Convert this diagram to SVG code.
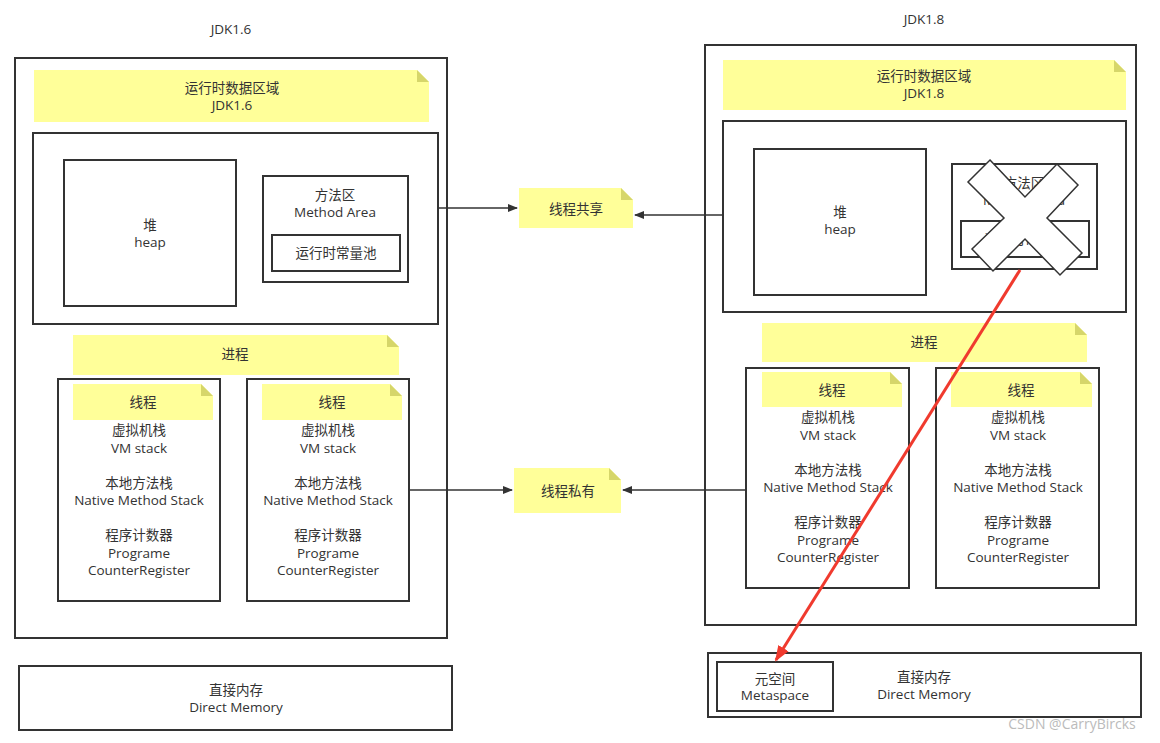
<svg xmlns="http://www.w3.org/2000/svg" width="1160" height="743" viewBox="0 0 1160 743">
<style>
text{font-family:"Open Sans","Noto Sans CJK SC",sans-serif;font-size:13.5px;fill:#333;text-anchor:middle}
.b{fill:#fff;stroke:#333;stroke-width:2}
.n{fill:#ffff99}
.f{fill:#d6d66a}
.c{stroke:#333;stroke-width:1.5;fill:none}
</style>
<defs>
<marker id="a" markerWidth="10" markerHeight="10" refX="9" refY="5" orient="auto" markerUnits="userSpaceOnUse"><path d="M0,1 L10,5 L0,9 Z" fill="#333"/></marker>
<marker id="r" markerWidth="16" markerHeight="16" refX="14" refY="8" orient="auto" markerUnits="userSpaceOnUse"><path d="M0,2 L16,8 L0,14 Z" fill="#f03a2e"/></marker>
</defs>
<rect width="1160" height="743" fill="#fff"/>
<text x="231" y="34">JDK1.6</text>
<text x="924" y="24">JDK1.8</text>
<g id="left">
<rect class="b" x="15" y="58" width="432" height="580"/>
<g id="n1"><path class="n" d="M34,70 H417 L429,82 V122 H34 Z"/><path class="f" d="M417,70 L429,82 H417 Z"/><text x="232" y="93">运行时数据区域</text><text x="232" y="110">JDK1.6</text></g>
<rect class="b" x="33" y="133" width="405" height="191"/>
<g id="heap1"><rect class="b" x="64" y="160" width="172" height="146"/><text x="150" y="230">堆</text><text x="150" y="247">heap</text></g>
<g id="ma1"><rect class="b" x="263" y="176" width="145" height="106"/><text x="335" y="200">方法区</text><text x="335" y="217">Method Area</text>
<rect class="b" x="272" y="235" width="128" height="36"/><text x="336" y="258">运行时常量池</text></g>
<g id="p1"><path class="n" d="M73,335 H387 L399,347 V375 H73 Z"/><path class="f" d="M387,335 L399,347 H387 Z"/><text x="235" y="359">进程</text></g>
<g id="t1"><rect class="b" x="58" y="379" width="162" height="222"/>
<path class="n" d="M73,384 H201 L213,396 V420 H73 Z"/><path class="f" d="M201,384 L213,396 H201 Z"/><text x="143" y="407">线程</text>
<text x="139" y="435">虚拟机栈</text><text x="139" y="453">VM stack</text><text x="139" y="488">本地方法栈</text><text x="139" y="505">Native Method Stack</text><text x="139" y="540">程序计数器</text><text x="139" y="558">Programe</text><text x="139" y="575">CounterRegister</text></g>
<g id="t2"><rect class="b" x="247" y="379" width="162" height="222"/>
<path class="n" d="M262,384 H390 L402,396 V420 H262 Z"/><path class="f" d="M390,384 L402,396 H390 Z"/><text x="332" y="407">线程</text>
<text x="328" y="435">虚拟机栈</text><text x="328" y="453">VM stack</text><text x="328" y="488">本地方法栈</text><text x="328" y="505">Native Method Stack</text><text x="328" y="540">程序计数器</text><text x="328" y="558">Programe</text><text x="328" y="575">CounterRegister</text></g>
</g>
<g id="dm1"><rect class="b" x="19" y="666" width="433" height="64"/><text x="236" y="695">直接内存</text><text x="236" y="712">Direct Memory</text></g>
<g id="share"><path class="n" d="M519,188 H621 L633,200 V228 H519 Z"/><path class="f" d="M621,188 L633,200 H621 Z"/><text x="576" y="214">线程共享</text></g>
<g id="priv"><path class="n" d="M514,468 H609 L621,480 V513 H514 Z"/><path class="f" d="M609,468 L621,480 H609 Z"/><text x="568" y="496">线程私有</text></g>
<g id="right">
<rect class="b" x="705" y="45" width="431" height="580"/>
<g id="n2"><path class="n" d="M723,60 H1114 L1126,72 V110 H723 Z"/><path class="f" d="M1114,60 L1126,72 H1114 Z"/><text x="924" y="81">运行时数据区域</text><text x="924" y="98">JDK1.8</text></g>
<rect class="b" x="723" y="121" width="403" height="191"/>
<g id="heap2"><rect class="b" x="754" y="149" width="172" height="146"/><text x="840" y="217">堆</text><text x="840" y="234">heap</text></g>
<g id="ma2"><rect class="b" x="952" y="164" width="145" height="105"/><text x="1024" y="188">方法区</text><text x="1024" y="205">Method Area</text>
<rect class="b" x="961" y="221" width="128" height="36"/><text x="1025" y="244">运行时常量池</text>
<polygon fill="#fff" stroke="#333" stroke-width="1.5" points="990,160 1025,197 1057,164 1078,185 1047,218 1082,253 1060,275 1025,239 993,271 972,249 1004,218 968,182"/></g>
<g id="p2"><path class="n" d="M762,323 H1075 L1087,335 V362 H762 Z"/><path class="f" d="M1075,323 L1087,335 H1075 Z"/><text x="924" y="347">进程</text></g>
<g id="t3"><rect class="b" x="746" y="368" width="163" height="220"/>
<path class="n" d="M762,372 H890 L902,384 V407 H762 Z"/><path class="f" d="M890,372 L902,384 H890 Z"/><text x="832" y="395">线程</text>
<text x="828" y="422">虚拟机栈</text><text x="828" y="440">VM stack</text><text x="828" y="475">本地方法栈</text><text x="828" y="492">Native Method Stack</text><text x="828" y="527">程序计数器</text><text x="828" y="545">Programe</text><text x="828" y="562">CounterRegister</text></g>
<g id="t4"><rect class="b" x="936" y="368" width="163" height="220"/>
<path class="n" d="M951,372 H1080 L1092,384 V407 H951 Z"/><path class="f" d="M1080,372 L1092,384 H1080 Z"/><text x="1021" y="395">线程</text>
<text x="1018" y="422">虚拟机栈</text><text x="1018" y="440">VM stack</text><text x="1018" y="475">本地方法栈</text><text x="1018" y="492">Native Method Stack</text><text x="1018" y="527">程序计数器</text><text x="1018" y="545">Programe</text><text x="1018" y="562">CounterRegister</text></g>
</g>
<g id="dm2"><rect class="b" x="708" y="653" width="433" height="64"/><text x="924" y="682">直接内存</text><text x="924" y="699">Direct Memory</text>
<rect class="b" x="717" y="662" width="116" height="49"/><text x="775" y="684">元空间</text><text x="775" y="700">Metaspace</text></g>
<g id="connectors">
<path class="c" d="M438,208 H517" marker-end="url(#a)"/>
<path class="c" d="M722,215 H635" marker-end="url(#a)"/>
<path class="c" d="M410,490 H512" marker-end="url(#a)"/>
<path class="c" d="M746,490 H623" marker-end="url(#a)"/>
<path d="M1020,270 L776,660" stroke="#f03a2e" stroke-width="3" fill="none" marker-end="url(#r)"/>
</g>
<text x="1072" y="729" style="fill:#bbb;font-size:14px">CSDN @CarryBircks</text>
</svg>
